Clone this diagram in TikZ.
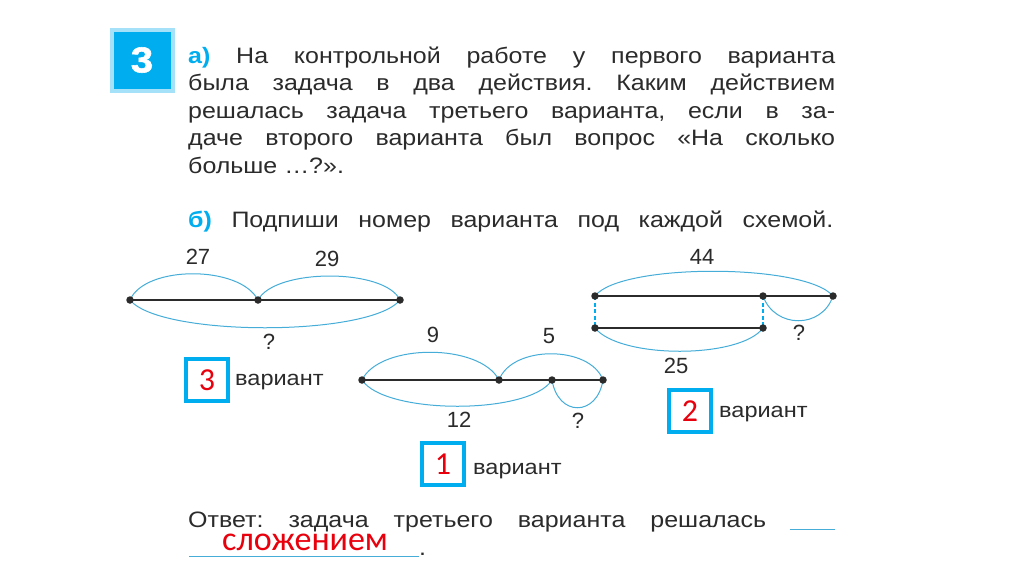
\documentclass[tikz,border=0pt]{standalone}
\usepackage{fontspec}
\setmainfont[FakeStretch=1.12]{Liberation Sans}
\newfontfamily\numfont{Liberation Sans}
\newfontfamily\badgefont[FakeStretch=1.12,FakeBold=1.6]{Liberation Sans}
\newfontfamily\handfont{Carlito}
\definecolor{inkdark}{HTML}{2B2B2B}
\definecolor{bookblue}{HTML}{00AEEF}
\definecolor{palebadge}{HTML}{A6E1FA}
\definecolor{arcblue}{HTML}{45ADD8}
\definecolor{handred}{HTML}{E8000D}
\def\taskline#1{\makebox[647pt][s]{#1}}
\tikzset{
	plain/.style={inner sep=0pt, color=inkdark, font=\fontsize{22.3}{27}\selectfont},
	textline/.style={plain, anchor=base west},
	num/.style={plain, anchor=center, font=\numfont\fontsize{22}{26}\selectfont},
	dot/.style={circle, fill=inkdark, inner sep=0pt, minimum size=7.5pt},
	seg/.style={line width=2.6pt, color=inkdark},
	arc/.style={line width=1pt, color=arcblue},
	tick/.style={line width=2.4pt, color=bookblue, dash pattern=on 4pt off 2.5pt},
	answerbox/.style={draw=bookblue, line width=4pt, fill=white, minimum size=42pt, inner sep=0pt, text=handred, font=\handfont\fontsize{32}{36}\selectfont},
	variantlabel/.style={plain, anchor=base west, font=\fontsize{21}{26}\selectfont}
}

\begin{document}
\frenchspacing
\begin{tikzpicture}[x=1pt, y=-1pt]
	%%%%% START %%%%%
	\useasboundingbox (0, 0) rectangle (1024, 576);
	\fill[white] (0, 0) rectangle (1024, 576);

	\fill[palebadge] (110, 28) rectangle (175, 93);
	\fill[bookblue] (114, 32) rectangle (171, 89);
	\node[inner sep=0pt, text=white, font=\badgefont\fontsize{36}{40}\selectfont] (badge) at (142, 60) {\textbf{3}};

	\node[textline] (line1) at (188, 63) {\taskline{\textcolor{bookblue}{\textbf{а)}} На контрольной работе у первого варианта}};
	\node[textline] (line2) at (188, 90.5) {\taskline{была задача в два действия. Каким действием}};
	\node[textline] (line3) at (188, 118) {\taskline{решалась задача третьего варианта, если в за-}};
	\node[textline] (line4) at (188, 145.5) {\taskline{даче второго варианта был вопрос «На сколько}};
	\node[textline] (line5) at (188, 173) {больше …?».};
	\node[textline] (line6) at (188, 227) {\makebox[645pt][s]{\textcolor{bookblue}{\textbf{б)}} Подпиши номер варианта под каждой схемой.}};

	%%%%% first scheme %%%%%
	\coordinate (a1) at (130, 300);
	\coordinate (a2) at (258, 300);
	\coordinate (a3) at (400, 300);
	\draw[arc] (a1) .. controls (145, 265) and (240, 265) .. (a2);
	\draw[arc] (a2) .. controls (275, 268) and (385, 268) .. (a3);
	\draw[arc] (a1) .. controls (160, 337) and (370, 337) .. (a3);
	\draw[seg] (a1) -- (a3);
	\foreach \p in {a1,a2,a3} \node[dot] (dot\p) at (\p) {};
	\node[num] (n27) at (198, 257) {27};
	\node[num] (n29) at (327, 259) {29};
	\node[num] (q1) at (269, 342) {?};
	\node[answerbox] (box3) at (207, 380) {3};
	\node[variantlabel] (var3) at (235, 385) {вариант};

	%%%%% second scheme %%%%%
	\coordinate (b1) at (362, 380);
	\coordinate (b2) at (499, 380);
	\coordinate (b3) at (552, 380);
	\coordinate (b4) at (603, 380);
	\draw[arc] (b1) .. controls (380, 343) and (480, 343) .. (b2);
	\draw[arc] (b2) .. controls (512, 345) and (590, 345) .. (b4);
	\draw[arc] (b1) .. controls (385, 415) and (530, 415) .. (b3);
	\draw[arc] (b3) .. controls (558, 417) and (597, 417) .. (b4);
	\draw[seg] (b1) -- (b4);
	\foreach \p in {b1,b2,b3,b4} \node[dot] (dot\p) at (\p) {};
	\node[num] (n9) at (433, 335) {9};
	\node[num] (n5) at (549, 336) {5};
	\node[num] (n12) at (459, 420) {12};
	\node[num] (q2) at (578, 421) {?};
	\node[answerbox] (box1) at (443, 464) {1};
	\node[variantlabel] (var1) at (473, 474) {вариант};

	%%%%% third scheme %%%%%
	\coordinate (c1) at (595, 296);
	\coordinate (c2) at (763, 296);
	\coordinate (c3) at (833, 296);
	\coordinate (d1) at (595, 328);
	\coordinate (d2) at (763, 328);
	\draw[arc] (c1) .. controls (620, 263) and (805, 263) .. (c3);
	\draw[arc] (c2) .. controls (775, 329) and (822, 329) .. (c3);
	\draw[arc] (d1) .. controls (620, 359) and (740, 359) .. (d2);
	\draw[tick] (c1) -- (d1);
	\draw[tick] (c2) -- (d2);
	\draw[seg] (c1) -- (c3);
	\draw[seg] (d1) -- (d2);
	\foreach \p in {c1,c2,c3,d1,d2} \node[dot] (dot\p) at (\p) {};
	\node[num] (n44) at (702, 257) {44};
	\node[num] (q3) at (799, 333) {?};
	\node[num] (n25) at (676, 366) {25};
	\node[answerbox] (box2) at (690, 411) {2};
	\node[variantlabel] (var2) at (719, 417) {вариант};

	%%%%% answer %%%%%
	\node[textline] (ans) at (188, 527) {\makebox[578pt][s]{Ответ: задача третьего варианта решалась}};
	\coordinate (rule1a) at (790, 529);
	\coordinate (rule1b) at (835, 529);
	\coordinate (rule2a) at (189, 556);
	\coordinate (rule2b) at (419, 556);
	\draw[line width=1pt, color=arcblue] (rule1a) -- (rule1b);
	\draw[line width=1pt, color=arcblue] (rule2a) -- (rule2b);
	\node[plain, anchor=base west] (stop) at (419, 555) {.};
	\node[inner sep=0pt, text=handred, font=\handfont\fontsize{34}{38}\selectfont] (word) at (305, 542) {сложением};
	%%%%% END %%%%%
\end{tikzpicture}
\end{document}
